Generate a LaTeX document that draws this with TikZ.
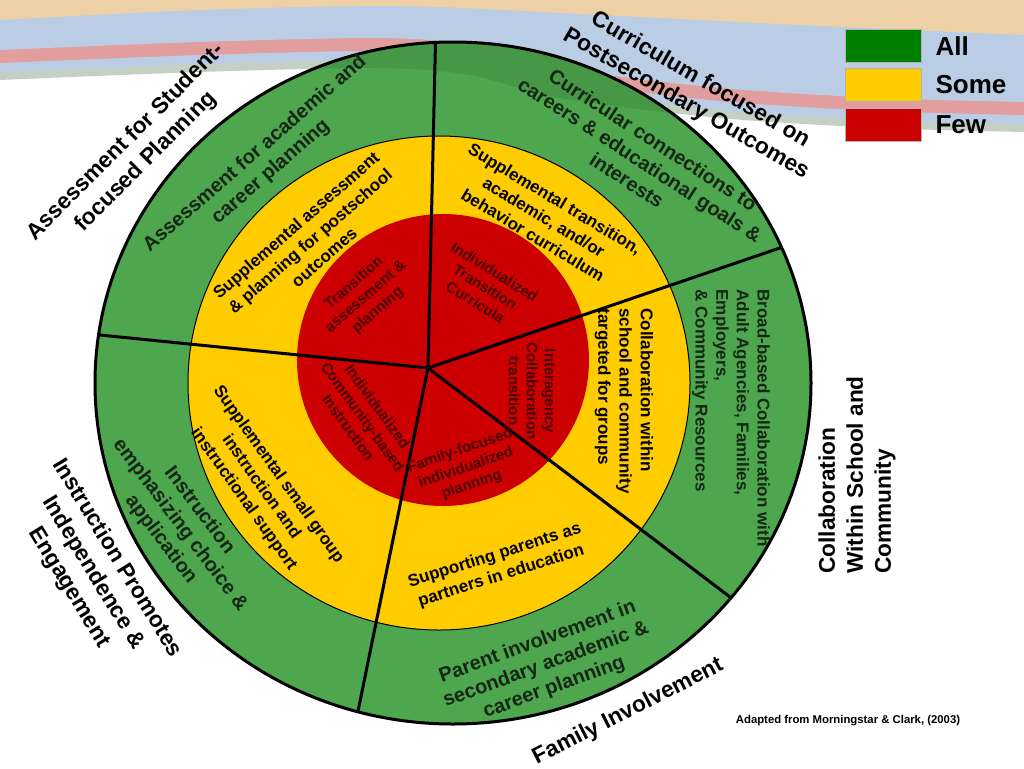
\documentclass[tikz,border=0pt]{standalone}
\usepackage{fontspec}
\setmainfont{Liberation Sans}
\usetikzlibrary{positioning}
\definecolor{ringgreen}{RGB}{78,166,78}
\definecolor{ringyellow}{RGB}{255,204,0}
\definecolor{ringred}{RGB}{204,0,0}
\definecolor{keygreen}{RGB}{0,128,0}
\definecolor{ringtxt}{RGB}{20,38,20}
\definecolor{coretxt}{RGB}{72,0,0}
\definecolor{peach}{RGB}{237,208,165}
\definecolor{bandblue}{RGB}{186,205,228}
\definecolor{bandpink}{RGB}{226,158,158}
\definecolor{bandgrey}{RGB}{196,208,196}

\begin{document}
\begin{tikzpicture}[x=0.75pt,y=-0.75pt,
  outer/.style={font=\bfseries\fontsize{17}{21}\selectfont,align=center},
  ring/.style={font=\bfseries\fontsize{15}{18}\selectfont,align=center,text=ringtxt},
  mid/.style={font=\bfseries\fontsize{12.75}{16}\selectfont,align=center},
  core/.style={font=\bfseries\fontsize{11.25}{13.5}\selectfont,align=center,text=coretxt},
  divider/.style={line width=2.25pt},
  key/.style={draw=gray!60,minimum width=57pt,minimum height=25pt,inner sep=0pt},
  keytext/.style={font=\bfseries\fontsize{19.5}{22}\selectfont,inner sep=0pt}]
\useasboundingbox (0,0) rectangle (1024,768);
\fill[white] (0,0) rectangle (1024,768);
% wavy bands at the top
\foreach \c/\d in {bandgrey/30,bandblue/22,bandpink/13,bandblue/0}
  \fill[\c] (0,0) -- plot[smooth] coordinates {(0,50+\d) (200,42+\d) (380,38+\d) (470,45+\d) (560,68+\d) (720,88+\d) (880,98+\d) (1024,102+\d)} -- (1024,0) -- cycle;
\fill[peach] (0,0) -- plot[smooth] coordinates {(0,20) (200,10) (400,6) (600,15) (800,25) (1024,35)} -- (1024,0) -- cycle;

% rings
\fill[ringgreen] (453,383) ellipse [x radius=358,y radius=341];
\filldraw[fill=ringyellow,line width=0.75pt] (439,383) ellipse [x radius=251,y radius=247];
\fill[ringred] (443,360) circle [radius=146];

% bands showing through the top of the circle
\begin{scope}
\clip (453,383) ellipse [x radius=358,y radius=341];
\fill[black,opacity=0.09] (0,0) -- plot[smooth] coordinates {(0,80) (200,72) (380,68) (470,75) (560,98) (720,118) (880,128) (1024,132)} -- (1024,0) -- cycle;
\end{scope}

% dividers
\coordinate (ctr) at (428,368);
\coordinate (e1) at (436,20);
\coordinate (e2) at (900,207);
\coordinate (e3) at (821,666);
\coordinate (e4) at (346,770);
\coordinate (e5) at (60,331);
\begin{scope}
\clip (453,383) ellipse [x radius=358,y radius=341];
\draw[divider] (ctr) -- (e1) (ctr) -- (e2) (ctr) -- (e3) (ctr) -- (e4) (ctr) -- (e5);
\end{scope}
\draw[line width=2.25pt] (453,383) ellipse [x radius=358,y radius=341];

% outer labels
\node[outer,rotate=45] (n1) at (136,152) {Assessment for Student-\\focused Planning};
\node[outer,rotate=-30] (n2) at (693,92) {Curriculum focused on\\Postsecondary Outcomes};
\node[outer,rotate=90,align=left] (n3) at (857,475) {Collaboration\\Within School and\\Community};
\node[outer,rotate=27] (n4) at (628,712) {Family Involvement};
\node[outer,rotate=-58.6] (n5) at (93,573) {Instruction Promotes\\Independence \&\\Engagement};

% green ring
\node[ring,rotate=41] (g1) at (263,163) {Assessment for academic and\\career planning};
\node[ring,rotate=-33] (g2) at (640,160) {Curricular connections to\\careers \& educational goals \&\\interests};
\node[ring,rotate=-90,align=left,font=\bfseries\fontsize{12.75}{15.5}\selectfont] (g3) at (731,418) {Broad-based Collaboration with\\Adult Agencies, Families,\\Employers,\\\& Community Resources};
\node[ring,rotate=20] (g4) at (546,665) {Parent involvement in\\secondary academic \&\\career planning};
\node[ring,rotate=-53] (g5) at (180,525) {Instruction\\emphasizing choice \&\\application};

% yellow ring
\node[mid,rotate=41] (y1) at (310,241) {Supplemental assessment\\\& planning for postschool\\outcomes};
\node[mid,rotate=-31] (y2) at (544,217) {Supplemental transition,\\academic, and/or\\behavior curriculum};
\node[mid,rotate=-90,align=left] (y3) at (624,401) {Collaboration within\\school and community\\targeted for groups};
\node[mid,rotate=17.5] (y4) at (498,566) {Supporting parents as\\partners in education};
\node[mid,rotate=-54.5] (y5) at (261,487) {Supplemental small group\\instruction and\\instructional support};

% red core
\node[core,rotate=41] (r1) at (366,297) {Transition\\assessment \&\\planning};
\node[core,rotate=-32] (r2) at (485,287) {Individualized\\Transition\\Curricula};
\node[core,rotate=-90] (r3) at (532,391) {Interagency\\Collaboration\\transition};
\node[core,rotate=19] (r4) at (466,468) {Family-focused\\individualized\\planning};
\node[core,rotate=-54] (r5) at (363,417) {Individualized\\Community-based\\Instruction};

% legend
\node[key,fill=keygreen] (k1) at (883,46) {};
\node[key,fill=ringyellow] (k2) at (883,85) {};
\node[key,fill=ringred] (k3) at (883,124.5) {};
\node[keytext,right=10.5pt of k1] (l1) {All};
\node[keytext,right=10.5pt of k2] (l2) {Some};
\node[keytext,right=10.5pt of k3] (l3) {Few};

\node[font=\bfseries\fontsize{8.5}{10}\selectfont] (src) at (848,721) {Adapted from Morningstar \& Clark, (2003)};
\end{tikzpicture}
\end{document}
